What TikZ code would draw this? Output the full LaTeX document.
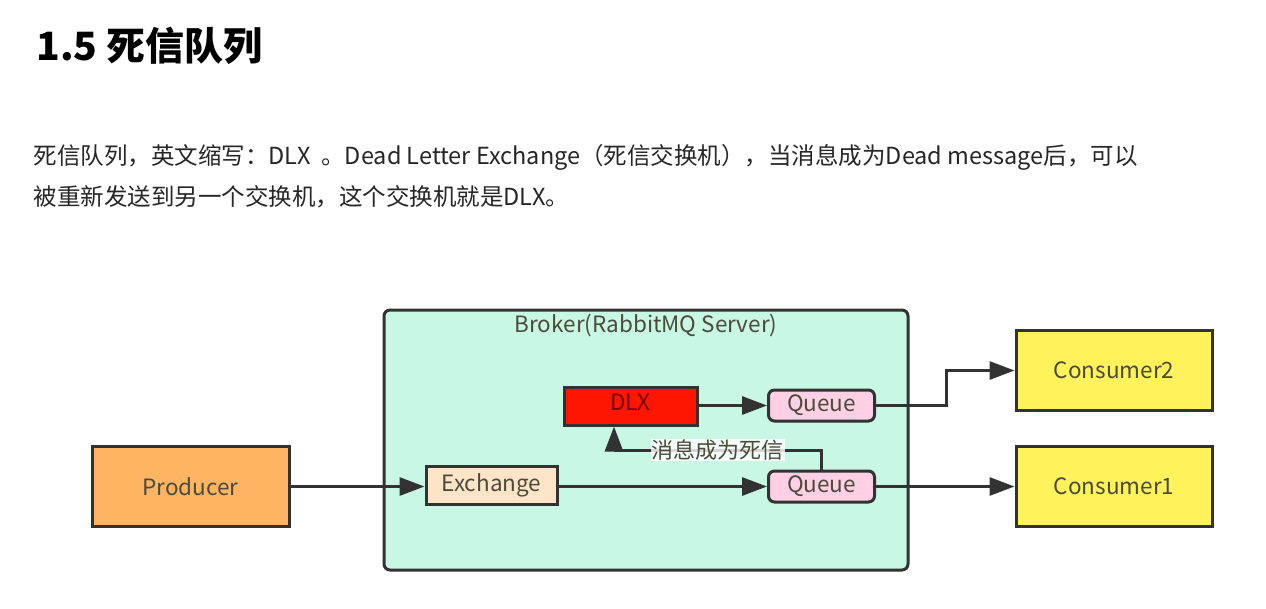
\documentclass[tikz,border=0pt]{standalone}
\usepackage{fontspec}
\setmainfont{Noto Sans CJK SC}
\usetikzlibrary{arrows.meta}
\definecolor{brokerbg}{RGB}{200,247,228}
\definecolor{dlxred}{RGB}{255,22,0}
\definecolor{queuepink}{RGB}{255,208,228}
\definecolor{exchbg}{RGB}{255,228,200}
\definecolor{prodorange}{RGB}{255,180,100}
\definecolor{consyellow}{RGB}{255,242,90}
\definecolor{edge}{RGB}{50,50,50}
\definecolor{txt}{RGB}{75,75,60}
\begin{document}
\begin{tikzpicture}[x=1pt,y=-1pt,>={Triangle[length=25pt,width=18pt]},
	box/.style={draw=edge,line width=3pt,text=txt,font=\fontsize{22.5}{22.5}\selectfont,inner sep=0pt},
	conn/.style={->,draw=edge,line width=3pt}]
		\useasboundingbox (0,0) rectangle (1266,608);
		\node[anchor=west,font=\fontsize{39}{39}\selectfont\bfseries] (title) at (33,46) {1.5 死信队列};
		\node[anchor=west,font=\fontsize{23.5}{23.5}\selectfont,text=black!85] (line1) at (30,157) {死信队列，英文缩写：DLX\ \ 。Dead Letter Exchange（死信交换机），当消息成为Dead message后，可以};
		\node[anchor=west,font=\fontsize{23.5}{23.5}\selectfont,text=black!85] (line2) at (30,197) {被重新发送到另一个交换机，这个交换机就是DLX。};
		\draw[draw=edge,line width=3pt,fill=brokerbg,rounded corners=6pt] (384,310) rectangle (908,570);
		\node[text=txt,font=\fontsize{22.5}{22.5}\selectfont] (broker) at (646,325) {Broker(RabbitMQ Server)};
		\node[box,fill=prodorange,minimum width=197,minimum height=80] (prod) at (190.5,486.5) {Producer};
		\node[box,fill=exchbg,minimum width=131,minimum height=38] (exch) at (491.5,485.5) {\raisebox{3pt}{Exchange}};
		\node[box,fill=dlxred,text=red!45!black,minimum width=133,minimum height=38] (dlx) at (630.5,406) {\raisebox{7pt}{DLX}};
		\node[box,fill=queuepink,rounded corners=6pt,minimum width=106,minimum height=31] (qtop) at (821.5,405.5) {Queue};
		\node[box,fill=queuepink,rounded corners=6pt,minimum width=106,minimum height=31] (qbot) at (821.5,486.5) {Queue};
		\node[box,fill=consyellow,minimum width=196,minimum height=80] (con2) at (1114,370.5) {Consumer2};
		\node[box,fill=consyellow,minimum width=196,minimum height=80] (con1) at (1114,486.5) {Consumer1};
		\draw[conn] (prod.east) -- (prod.east -| exch.west);
		\draw[conn] (exch.east |- qbot.west) -- (qbot.west);
		\draw[conn] (dlx.east |- qtop.west) -- (qtop.west);
		\draw[conn] (qtop.east) -- ++(70.5,0) |- (con2.west);
		\draw[conn] (qbot.east) -- (qbot.east -| con1.west);
		\draw[conn] (qbot.north) -- ++(0,-19.5) -| node[pos=0.25,fill=white,fill opacity=0.8,text opacity=1,text=txt,inner sep=1pt,font=\fontsize{22}{22}\selectfont] (dead) {消息成为死信} ([xshift=-16.5pt]dlx.south);
	\end{tikzpicture}
\end{document}
